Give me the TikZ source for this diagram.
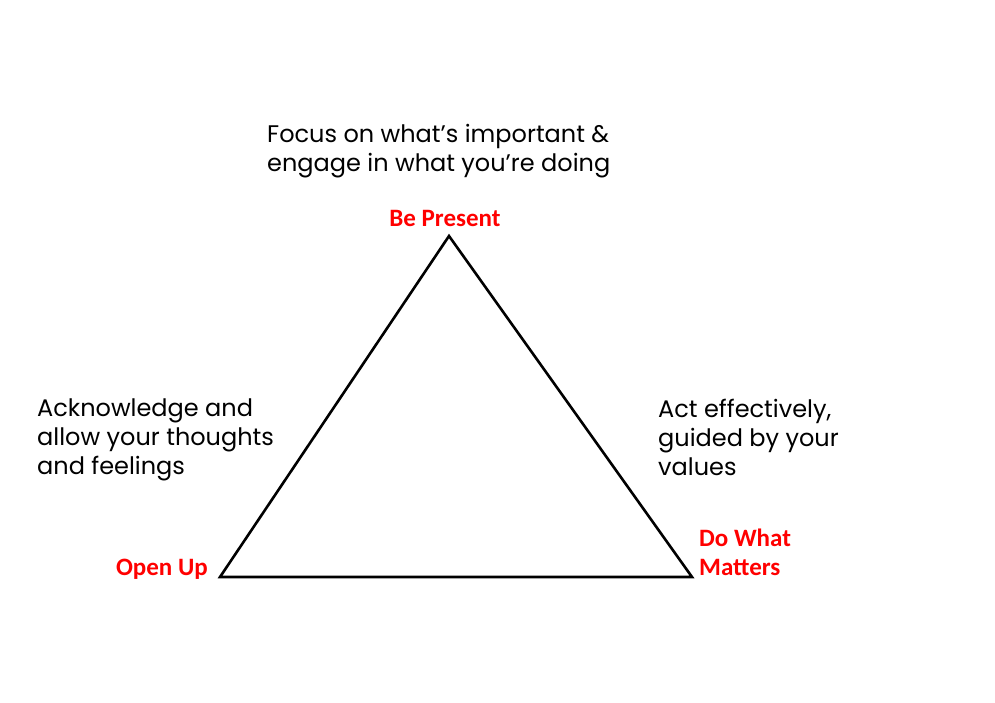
\documentclass[tikz,border=0pt]{standalone}
\usepackage{fontspec}
\setmainfont{Poppins}
\newfontfamily\labelfont{Carlito}
\usepackage{tikz}
\usetikzlibrary{calc}

\tikzset{
  note/.style={inner sep=0pt, align=left, anchor=north west, font=\fontsize{24}{29}\selectfont},
  corner/.style={inner sep=0pt, text=red, align=left, font=\labelfont\bfseries\fontsize{25}{29}\selectfont}
}

\begin{document}
\begin{tikzpicture}[x=1pt,y=1pt]
\useasboundingbox (0,0) rectangle (995,702);

% Triangle
\coordinate (top) at (449,466);
\coordinate (left) at (220,125);
\coordinate (right) at (692,125);
\draw[line width=2.6pt, line join=miter] (top) -- (left) -- (right) -- cycle;

% Corners
\node[corner, anchor=south] (present) at ($(top)+(-4,9)$) {Be Present};
\node[corner, anchor=east] (openup) at ($(left)+(-12,8)$) {Open Up};
\node[corner, anchor=west] (matters) at ($(right)+(7,25)$) {Do What\\Matters};

% Notes
\node[note] (focus) at (267,578) {Focus on what’s important \&\\engage in what you’re doing};
\node[note] (accept) at (37,303) {Acknowledge and\\allow your thoughts\\and feelings};
\node[note] (act) at (658,303) {Act effectively,\\guided by your\\values};
\end{tikzpicture}
\end{document}
